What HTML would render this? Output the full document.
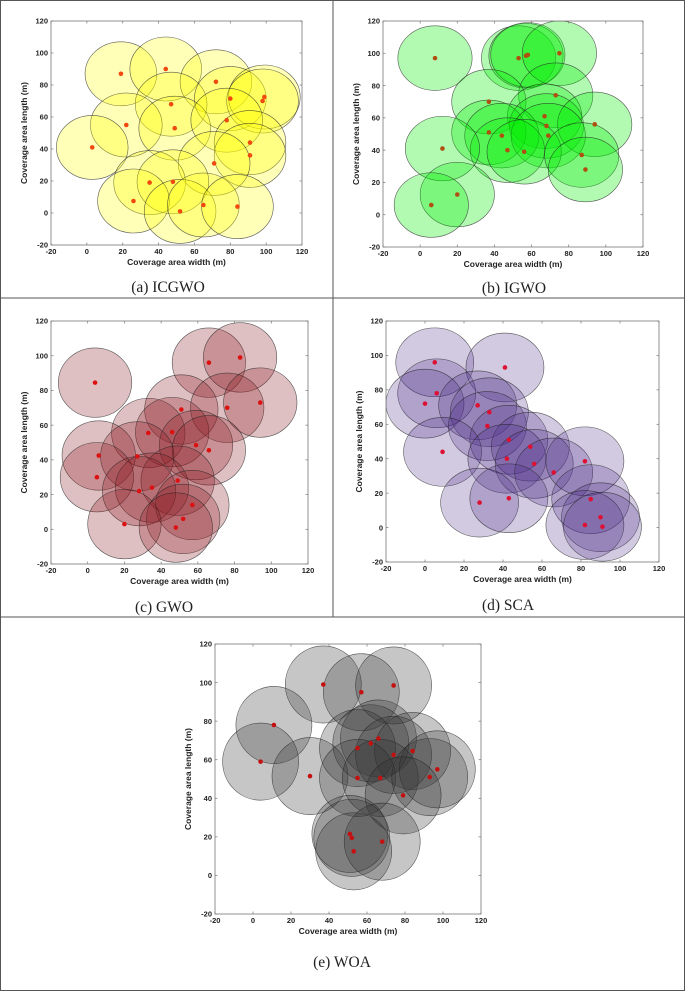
<!DOCTYPE html>
<html><head><meta charset="utf-8"><style>
body{margin:0;background:#fff;}
svg{display:block;font-family:"Liberation Sans",Arial,sans-serif;}
.cap{font-family:"Liberation Serif",serif;font-size:15.5px;fill:#222;}
</style></head><body>
<svg id="fig" width="685" height="992" viewBox="0 0 685 992">
<rect x="0.5" y="0.5" width="684" height="990" fill="none" stroke="#555" stroke-width="1"/>
<line x1="333" y1="0" x2="333" y2="617" stroke="#555"/>
<line x1="0" y1="298" x2="685" y2="298" stroke="#555"/>
<line x1="0" y1="617" x2="685" y2="617" stroke="#555"/>
<text class="cap" x="168" y="292" text-anchor="middle">(a)  ICGWO</text>
<text class="cap" x="514" y="293" text-anchor="middle">(b) IGWO</text>
<text class="cap" x="164" y="612" text-anchor="middle">(c)  GWO</text>
<text class="cap" x="508" y="610" text-anchor="middle">(d)  SCA</text>
<text class="cap" x="342" y="967" text-anchor="middle">(e)  WOA</text>
</svg>
<script>
const xTicks=[-20,0,20,40,60,80,100,120];
const yTicks=[-20,0,20,40,60,80,100,120];
const radius=20;
const aX=[19,44,72,47,80,99,98,22,49,78,3,91,91,71,35,48,26,52,65,84];
const aY=[87,90,82,68,71.5,72.5,70,55,53,58,41,44,36,31,19,19.5,7.5,1,5,4];
const bX=[8,53,57,58,75,73,37,67,68,94,37,44,69,47,56,12,87,89,20,6];
const bY=[97,97,98.5,99,100,74,70,61,55,56,51,49,49,40,39,41,37,28,12.5,6];
const cX=[4,66,83,51,76,94,33,46,59,66,6,27,5,49,35,28,57,52,20,48];
const cY=[84.5,96,99,69,70,73,55.5,56,48.5,45.5,42.5,42,30,28,24,22,14,6,3,1];
const dX=[5,41,6,0,27,33,32,43,54,9,42,56,66,82,28,43,85,90,82,91];
const dY=[96,93,78,72,71,67,59,51,47,44,40,37,32,38.5,14.5,17,16.5,6,1.5,0.5];
const eX=[37,57,74,11,4,30,66,62,55,74,84,55,67,93,97,79,51,52,68,53];
const eY=[99,95,98.5,78,59,51.5,71,68.5,66,62.5,64.5,50.5,50.5,51,55,41.5,21.5,19.5,17.5,12.5];
const NS="http://www.w3.org/2000/svg";
const fig=document.getElementById('fig');
function mk(t,a,p){const e=document.createElementNS(NS,t);for(const k in a)e.setAttribute(k,a[k]);(p||fig).appendChild(e);return e;}
function panel(id,L,R,T,B,xs,ys,fill,fop,dot){
  const g=mk('g',{});
  
  
  const sx=v=>L+(v+20)/140*(R-L), sy=v=>B-(v+20)/140*(B-T);
  const bg=mk('rect',{x:L,y:T,width:R-L,height:B-T,fill:'#fff',stroke:'none'},g);
  
  
  const cl='clip'+id;
  const cp=mk('clipPath',{id:cl},g);mk('rect',{x:L,y:T,width:R-L,height:B-T},cp);
  const cg=mk('g',{'clip-path':'url(#'+cl+')'},g);
  for(let i=0;i<xs.length;i++){
    const c=mk('ellipse',{cx:sx(xs[i]),cy:sy(ys[i]),rx:radius/140*(R-L),ry:radius/140*(B-T),fill:fill,'fill-opacity':fop,stroke:'#222','stroke-opacity':0.75,'stroke-width':0.6},cg);
    
    
  }
  for(let i=0;i<xs.length;i++){
    const d=mk('circle',{cx:sx(xs[i]),cy:sy(ys[i]),r:2.3,fill:dot},cg);
    
    
  }
  const fr=mk('rect',{x:L,y:T,width:R-L,height:B-T,fill:'none',stroke:'#777','stroke-width':0.8},g);
  
  
  xTicks.forEach(t=>{const x=sx(t);
    mk('line',{x1:x,y1:B,x2:x,y2:B-2.5,stroke:'#777','stroke-width':0.7},g);
    mk('line',{x1:x,y1:T,x2:x,y2:T+2.5,stroke:'#777','stroke-width':0.7},g);
    const tx=mk('text',{x:x,y:B+9,'font-size':7.5,'font-weight':'bold','text-anchor':'middle',fill:'#222'},g);tx.textContent=t;
    
    });
  yTicks.forEach(t=>{const y=sy(t);
    mk('line',{x1:L,y1:y,x2:L+2.5,y2:y,stroke:'#777','stroke-width':0.7},g);
    mk('line',{x1:R,y1:y,x2:R-2.5,y2:y,stroke:'#777','stroke-width':0.7},g);
    const tx=mk('text',{x:L-3,y:y+2.7,'font-size':7.5,'font-weight':'bold','text-anchor':'end',fill:'#222'},g);tx.textContent=t;
    
    });
  const xt=mk('text',{x:(L+R)/2,y:B+20,'font-size':8.5,'font-weight':'bold','text-anchor':'middle',fill:'#222'},g);
  xt.textContent='Coverage area width (m)';
  
  
  const yx=L-24,yy=(T+B)/2;
  const yt=mk('text',{x:yx,y:yy,'font-size':8.5,'font-weight':'bold','text-anchor':'middle',fill:'#222',transform:'rotate(-90 '+yx+' '+yy+')'},g);
  yt.textContent='Coverage area length (m)';
  
  
}
panel('a',51,302,21,245,aX,aY,'#ffff00',0.28,'#f04a10');
panel('b',383,643,21,247,bX,bY,'#00ee00',0.3,'#b05010');
panel('c',51,308,321,564,cX,cY,'#8b1e24',0.28,'#dd1111');
panel('d',386,659,321,562,dX,dY,'#4a2b86',0.25,'#dd1133');
panel('e',215,481,644,914,eX,eY,'#333333',0.28,'#c41010');
</script>
</body></html>
